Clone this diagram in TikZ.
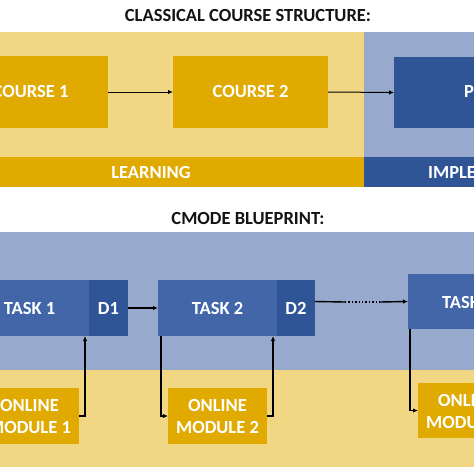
\documentclass[tikz,border=0pt]{standalone}
\usepackage{fontspec}
\setmainfont{Carlito}
\usetikzlibrary{arrows.meta}
\definecolor{lyellow}{RGB}{241,214,132}
\definecolor{dyellow}{RGB}{224,170,0}
\definecolor{lblue}{RGB}{151,169,204}
\definecolor{dblue}{RGB}{47,85,151}
\definecolor{tblue}{RGB}{66,102,168}
\definecolor{titlec}{RGB}{20,20,20}
\tikzset{
  box/.style={rectangle, inner sep=0pt, outer sep=0pt, text=white, font=\bfseries\fontsize{18.5}{22}\selectfont, align=center},
  ybox/.style={box, fill=dyellow},
  bbox/.style={box, fill=dblue},
  tbox/.style={box, fill=tblue},
  ttl/.style={font=\bfseries\fontsize{18.5}{22}\selectfont, text=titlec},
  lbl/.style={text=white, font=\bfseries\fontsize{18.5}{22}\selectfont, inner sep=0pt},
  conn/.style={draw=black, line width=1pt, -{Latex[length=5pt,width=4.5pt]}},
  connb/.style={draw=black, line width=1.4pt, -{Latex[length=5pt,width=4.5pt]}},
}
\begin{document}
\begin{tikzpicture}[x=1pt,y=-1pt]
\useasboundingbox (0,0) rectangle (474,474);
\clip (0,0) rectangle (474,474);
\fill[white] (0,0) rectangle (474,474);
% top section
\node[ttl] (title1) at (248,16) {CLASSICAL COURSE STRUCTURE:};
\fill[lyellow] (0,32) rectangle (364,157);
\fill[lblue] (364,32) rectangle (474,157);
\fill[dyellow] (-62,157) rectangle (364,187);
\fill[dblue] (364,157) rectangle (560,187);
\node[lbl] (learn) at (151,172) {LEARNING};
\node[lbl, anchor=west] (impl) at (428,172) {IMPLE};
\node[ybox, minimum width=155pt, minimum height=72pt] (course1) at (30.5,92) {COURSE 1};
\node[ybox, minimum width=155pt, minimum height=72pt] (course2) at (250.5,92) {COURSE 2};
\node[bbox, minimum width=155pt, minimum height=71pt] (pbox) at (471.5,92.5) {};
\node[lbl, anchor=west] (ptext) at (464,92) {P};
\draw[conn] (course1.east) -- (course2.west);
\draw[conn] (course2.east) -- (pbox.west);
% bottom section
\node[ttl] (title2) at (248,218) {CMODE BLUEPRINT:};
\fill[lblue] (0,232) rectangle (474,370);
\fill[lyellow] (0,370) rectangle (474,467);
\node[tbox, minimum width=119pt, minimum height=56pt] (task1) at (29.5,308) {TASK 1};
\node[bbox, minimum width=39pt, minimum height=56pt] (d1) at (108.5,308) {D1};
\node[tbox, minimum width=119pt, minimum height=56pt] (task2) at (217.5,308) {TASK 2};
\node[bbox, minimum width=38pt, minimum height=56pt] (d2) at (296,308) {D2};
\node[tbox, minimum width=119pt, minimum height=55pt] (task3) at (467.5,301.5) {};
\node[lbl, anchor=west] (t3text) at (442,302) {TASK};
\node[ybox, minimum width=99pt, minimum height=56pt] (om1) at (29.5,416) {ONLINE\\MODULE 1};
\node[ybox, minimum width=99pt, minimum height=56pt] (om2) at (217.5,416) {ONLINE\\MODULE 2};
\node[ybox, minimum width=99pt, minimum height=55pt] (om3) at (467.5,410.5) {};
\node[lbl, anchor=west] (om3a) at (438,400) {ONLI};
\node[lbl, anchor=west] (om3b) at (426,422) {MODU};
% connectors
\draw[connb] (d1.east) -- (task2.west);
\coordinate (dA) at (345,302);
\coordinate (dB) at (380,302);
\draw[line width=1.4pt] (task3.west -| d2.east) -- (dA);
\draw[line width=1.4pt, dotted] (dA) -- (dB);
\draw[connb] (dB) -- (task3.west);
\draw[connb] (om1.east) -| ([xshift=-4pt]task1.south east);
\draw[connb] ([xshift=3pt]task2.south west) |- (om2.west);
\draw[connb] (om2.east) -| ([xshift=-4pt]task2.south east);
\draw[connb] ([xshift=2pt]task3.south west) |- (om3.west);
\end{tikzpicture}
\end{document}
